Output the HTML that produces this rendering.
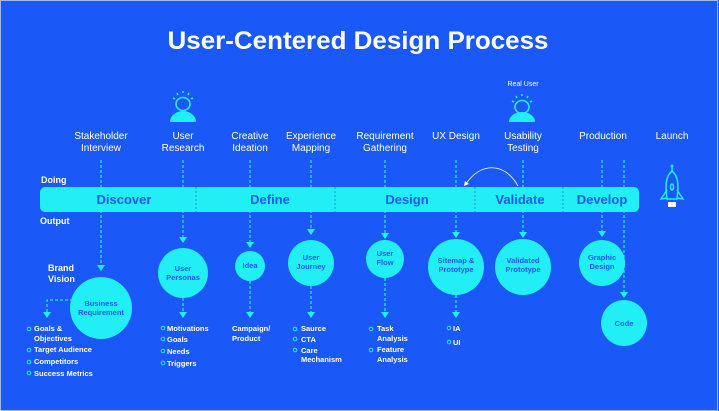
<!DOCTYPE html>
<html><head><meta charset="utf-8"><style>
html,body{margin:0;padding:0;background:#1b58f8;}
svg{display:block;font-family:"Liberation Sans",sans-serif;}
</style></head><body>
<svg width="719" height="411" viewBox="0 0 719 411" xmlns="http://www.w3.org/2000/svg">
<rect x="0" y="0" width="719" height="411" fill="#1b58f8"/>
<rect x="0.5" y="0.5" width="717" height="410" fill="none" stroke="#9fb8ee" stroke-width="1"/>
<text x="358" y="49" text-anchor="middle" fill="#fff" font-size="25" font-weight="bold" textLength="381" lengthAdjust="spacingAndGlyphs">User-Centered Design Process</text>

<g fill="#fff" font-size="10" text-anchor="middle">
<text x="101" y="139">Stakeholder</text><text x="101" y="151">Interview</text>
<text x="183" y="139">User</text><text x="183" y="151">Research</text>
<text x="250" y="139">Creative</text><text x="250" y="151">Ideation</text>
<text x="311" y="139">Experience</text><text x="311" y="151">Mapping</text>
<text x="385" y="139">Requirement</text><text x="385" y="151">Gathering</text>
<text x="456" y="139">UX Design</text>
<text x="523" y="139">Usability</text><text x="523" y="151">Testing</text>
<text x="603" y="139">Production</text>
<text x="672" y="139">Launch</text>
<text x="523" y="86" font-size="7">Real User</text>
</g>

<!-- user icons -->
<g fill="none" stroke="#22eef5" stroke-width="1.6">
<ellipse cx="183" cy="104" rx="7" ry="6.5"/>
<path d="M178 95l-1-2M183 93v-2M188 95l1-2M175 99l-2-1M191 99l2-1"/>
<ellipse cx="522" cy="107" rx="7" ry="6.5"/>
<path d="M517 98l-1-2M522 96v-2M527 98l1-2M514 102l-2-1M530 102l2-1"/>
</g>
<path d="M170 122a13 11 0 0 1 26 0z" fill="#22eef5"/>
<path d="M509 122a13 10 0 0 1 26 0z" fill="#22eef5"/>

<g fill="#fff" font-size="9" font-weight="bold">
<text x="41" y="183">Doing</text>
<text x="40" y="224">Output</text>
<text x="48" y="271">Brand</text><text x="48" y="282">Vision</text>
</g>

<!-- dashed lines -->
<g stroke="#22eef5" stroke-width="1.2" stroke-dasharray="3,2" fill="none">
<path d="M101 160V267"/>
<path d="M183 160V238"/>
<path d="M250 160V243"/>
<path d="M311 160V230"/>
<path d="M385 160V234"/>
<path d="M456 160V233"/>
<path d="M523 160V233"/>
<path d="M602 160V232"/>
<path d="M624 160V294"/>
<path d="M183 298V313M250 281V313M311 286V313M385 278V313M456 295V313"/>
<path d="M73 300H47V313"/>
</g>
<g fill="#22eef5">
<path d="M97 265h8l-4 6z"/><path d="M179 237h8l-4 6z"/><path d="M246 242h8l-4 6z"/>
<path d="M307 229h8l-4 6z"/><path d="M381 233h8l-4 6z"/><path d="M452 232h8l-4 6z"/>
<path d="M519 232h8l-4 6z"/><path d="M598 231h8l-4 6z"/><path d="M620 292h8l-4 6z"/>
<path d="M43 312h8l-4 6z"/><path d="M179 312h8l-4 6z"/><path d="M246 312h8l-4 6z"/>
<path d="M307 312h8l-4 6z"/><path d="M381 312h8l-4 6z"/><path d="M452 312h8l-4 6z"/>
</g>

<!-- bar -->
<rect x="40" y="187" width="599" height="25" rx="5" fill="#22eef5"/>
<g stroke="#1b58f8" stroke-width="1" stroke-dasharray="2,2" opacity="0.6">
<path d="M196 187v25M335 187v25M475 187v25M563 187v25"/>
</g>
<g fill="#1b58f8" font-size="13" font-weight="bold" text-anchor="middle">
<text x="124" y="204">Discover</text><text x="270" y="204">Define</text>
<text x="407" y="204">Design</text><text x="520" y="204">Validate</text><text x="602" y="204">Develop</text>
</g>
<path d="M518 186C505 162 480 162 466 184" fill="none" stroke="#fff" stroke-width="0.8"/>
<path d="M464 186l1-5 4 3z" fill="#fff"/>

<!-- rocket -->
<g fill="none" stroke="#22eef5" stroke-width="1.5">
<path d="M672 171c-6 5-7 13-5 28h10c2-15 1-23-5-28z"/>
<path d="M667 190l-6 9 6-1M677 190l6 9-6-1"/>
<ellipse cx="672" cy="187" rx="1.5" ry="3"/>
<path d="M672 171v-4"/>
</g>
<circle cx="672" cy="166" r="1.5" fill="#22eef5"/>
<rect x="668" y="202" width="8" height="5" fill="#fff"/>

<!-- circles -->
<g fill="#22eef5">
<circle cx="101" cy="308" r="31"/><circle cx="183" cy="273" r="25"/><circle cx="250" cy="266" r="15"/>
<circle cx="311" cy="263" r="23"/><circle cx="385" cy="259" r="19"/><circle cx="456" cy="267" r="28"/>
<circle cx="523" cy="267" r="28"/><circle cx="602" cy="263" r="23"/><circle cx="624" cy="323" r="23"/>
</g>
<g fill="#1b58f8" font-size="7.5" font-weight="bold" text-anchor="middle">
<text x="101" y="306">Business</text><text x="101" y="315">Requirement</text>
<text x="183" y="271">User</text><text x="183" y="280">Personas</text>
<text x="250" y="268">Idea</text>
<text x="311" y="260">User</text><text x="311" y="269">Journey</text>
<text x="385" y="256">User</text><text x="385" y="265">Flow</text>
<text x="456" y="263">Sitemap &amp;</text><text x="456" y="272">Prototype</text>
<text x="523" y="263">Validated</text><text x="523" y="272">Prototype</text>
<text x="602" y="260">Graphic</text><text x="602" y="269">Design</text>
<text x="624" y="326">Code</text>
</g>

<!-- lists -->
<g fill="none" stroke="#22eef5" stroke-width="1">
<circle cx="29" cy="329" r="1.8"/><circle cx="29" cy="350" r="1.8"/><circle cx="29" cy="362" r="1.8"/><circle cx="29" cy="373" r="1.8"/>
<circle cx="163" cy="328" r="1.8"/><circle cx="163" cy="339" r="1.8"/><circle cx="163" cy="351" r="1.8"/><circle cx="163" cy="363" r="1.8"/>
<circle cx="295" cy="329" r="1.8"/><circle cx="295" cy="339" r="1.8"/><circle cx="295" cy="350" r="1.8"/>
<circle cx="371" cy="329" r="1.8"/><circle cx="371" cy="350" r="1.8"/>
<circle cx="449" cy="328" r="1.8"/><circle cx="449" cy="342" r="1.8"/>
</g>
<g fill="#fff" font-size="7.5" font-weight="bold">
<text x="34" y="331">Goals &amp;</text><text x="34" y="341">Objectives</text>
<text x="34" y="352">Target Audience</text><text x="34" y="364">Competitors</text><text x="34" y="376">Success Metrics</text>
<text x="167" y="331">Motivations</text><text x="167" y="342">Goals</text><text x="167" y="354">Needs</text><text x="167" y="366">Triggers</text>
<text x="232" y="331">Campaign/</text><text x="232" y="341">Product</text>
<text x="301" y="331">Saurce</text><text x="301" y="342">CTA</text><text x="301" y="353">Care</text><text x="301" y="362">Mechanism</text>
<text x="377" y="331">Task</text><text x="377" y="341">Analysis</text><text x="377" y="352">Feature</text><text x="377" y="362">Analysis</text>
<text x="453" y="331">IA</text><text x="453" y="345">UI</text>
</g>
</svg>
</body></html>
